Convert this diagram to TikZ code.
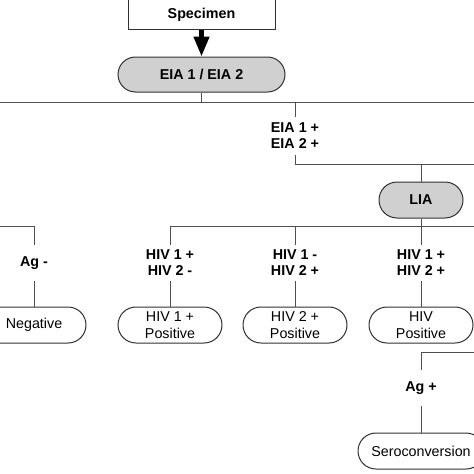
\documentclass[tikz,border=0pt]{standalone}
\usepackage{fontspec}
\setmainfont{Liberation Sans}
\usetikzlibrary{shapes.misc,arrows.meta}
\definecolor{linegray}{HTML}{505050}
\definecolor{boxborder}{HTML}{303030}
\definecolor{boxfill}{HTML}{D0D0D0}
\begin{document}
\begin{tikzpicture}[x=1pt,y=-1pt,
  ln/.style={draw=linegray,line width=1pt},
  pill/.style={rounded rectangle, draw=boxborder, line width=1pt, minimum height=36pt, minimum width=104pt, inner sep=0pt, align=center, font=\fontsize{14.3}{16.8}\selectfont},
  greypill/.style={pill, fill=boxfill, font=\bfseries\fontsize{14.3}{16.5}\selectfont},
  lab/.style={inner sep=0pt, align=center, font=\bfseries\fontsize{14.3}{16}\selectfont, minimum height=36pt}]
\useasboundingbox (0,0) rectangle (474,474);
\clip (0,0) rectangle (474,474);
% Specimen
\node[draw=boxborder, line width=1pt, minimum width=147pt, minimum height=34pt, inner sep=0pt] (specbox) at (201.5,12) {};
\node[font=\bfseries\fontsize{14.3}{16}\selectfont, inner sep=0pt] (spec) at (201.5,15) {Specimen};
% EIA
\node[greypill, minimum width=167pt, minimum height=35pt] (eia) at (201.5,74.5) {EIA 1 / EIA 2};
\draw[black, line width=4.5pt, -{Triangle[length=20pt,width=15pt]}] (specbox.south) -- (eia.north);
\coordinate (j0) at (201.5,102);
\coordinate (L0) at (-5,102);
\coordinate (R0) at (480,102);
\draw[ln] (eia.south) -- (j0);
\draw[ln] (L0) -- (R0);
\coordinate (j1) at (295,102);
\node[lab, minimum height=38pt] (eiapos) at (295,136) {EIA 1 +\\EIA 2 +};
\draw[ln] (j1) -- (eiapos.north);
\coordinate (j2) at (295,164);
\coordinate (R1) at (480,164);
\draw[ln] (eiapos.south) -- (j2) -- (R1);
\coordinate (j3) at (421,164);
\node[greypill, minimum width=84pt] (lia) at (421,200) {LIA};
\draw[ln] (j3) -- (lia.north);
% LIA branches
\coordinate (j4) at (421,226.5);
\coordinate (jl) at (170,226.5);
\coordinate (jm) at (295,226.5);
\coordinate (R2) at (480,226.5);
\draw[ln] (lia.south) -- (j4);
\draw[ln] (jl) -- (R2);
\node[lab] (l1) at (170,263) {HIV 1 +\\HIV 2 -};
\node[lab] (l2) at (295,263) {HIV 1 -\\HIV 2 +};
\node[lab] (l3) at (421,263) {HIV 1 +\\HIV 2 +};
\draw[ln] (jl) -- (l1.north);
\draw[ln] (jm) -- (l2.north);
\draw[ln] (j4) -- (l3.north);
% Ag -
\coordinate (L1) at (-5,226.5);
\coordinate (ja) at (34,226.5);
\node[lab] (agneg) at (34,263) {Ag -};
\draw[ln] (L1) -- (ja) -- (agneg.north);
% result boxes
\node[pill] (neg) at (34,325) {Negative};
\node[pill] (p1) at (170,325) {HIV 1 +\\Positive};
\node[pill] (p2) at (295,325) {HIV 2 +\\Positive};
\node[pill] (p3) at (421,325) {HIV\\Positive};
\draw[ln] (agneg.south) -- (neg.north);
\draw[ln] (l1.south) -- (p1.north);
\draw[ln] (l2.south) -- (p2.north);
\draw[ln] (l3.south) -- (p3.north);
% Ag +
\coordinate (R3) at (480,352);
\coordinate (j5) at (421,352);
\node[lab] (agpos) at (421,388) {Ag +};
\draw[ln] (R3) -- (j5) -- (agpos.north);
\node[pill, minimum width=126pt] (sero) at (421,451) {Seroconversion};
\draw[ln] (agpos.south) -- (sero.north);
\end{tikzpicture}
\end{document}
